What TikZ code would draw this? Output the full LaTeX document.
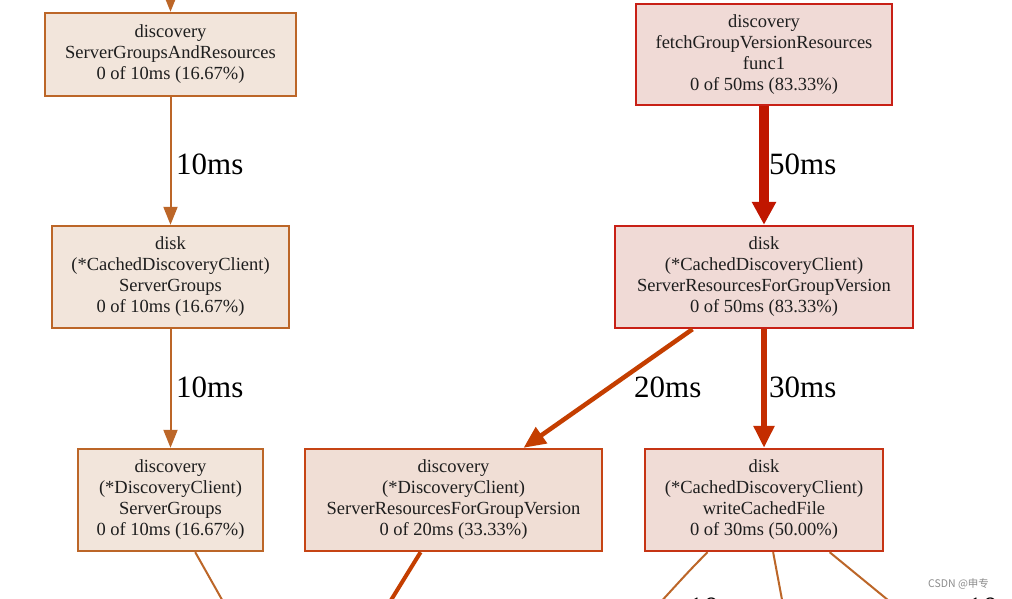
\documentclass[tikz,border=0pt]{standalone}
\usepackage{fontspec}
\setmainfont{Liberation Serif}
\newfontfamily\cjkfont{Noto Sans CJK SC}
\usetikzlibrary{arrows.meta,calc}
\definecolor{orEdge}{RGB}{188,102,40}
\definecolor{orFill}{RGB}{242,229,219}
\definecolor{rdEdge}{RGB}{200,32,22}
\definecolor{rdFill}{RGB}{240,218,214}
\definecolor{dBorder}{RGB}{198,68,20}
\definecolor{dFill}{RGB}{240,222,213}
\definecolor{eBorder}{RGB}{198,52,20}
\definecolor{eFill}{RGB}{240,220,214}
\definecolor{fgEdge}{RGB}{192,22,0}
\definecolor{gdEdge}{RGB}{196,62,0}
\definecolor{geEdge}{RGB}{196,45,0}
\definecolor{txt}{RGB}{30,30,30}
\tikzset{
  fbox/.style={draw, line width=2.4pt, rectangle, inner sep=0pt, align=center,
    text=txt, font=\fontsize{18.5}{21}\selectfont},
  obox/.style={fbox, draw=orEdge, fill=orFill},
  rbox/.style={fbox, draw=rdEdge, fill=rdFill},
  elabel/.style={anchor=west, inner sep=0pt, text=black, font=\fontsize{31}{34}\selectfont},
  thinedge/.style={draw=orEdge, line width=2pt, -{Triangle[width=14pt 0 0,length=18pt 0 0]}},
}
\begin{document}
\begin{tikzpicture}[x=1pt,y=-1pt]
\useasboundingbox (0,0) rectangle (1012,599);
\clip (0,0) rectangle (1012,599);
\fill[white] (0,0) rectangle (1012,599);

% nodes
\node[obox, minimum width=251pt, minimum height=83pt] (A) at (170.5,54.5)
  {discovery\\ServerGroupsAndResources\\0 of 10ms (16.67\%)};
\node[obox, minimum width=237pt, minimum height=102pt] (B) at (170.5,277)
  {disk\\(*CachedDiscoveryClient)\\ServerGroups\\0 of 10ms (16.67\%)};
\node[obox, minimum width=185pt, minimum height=102pt] (C) at (170.5,500)
  {discovery\\(*DiscoveryClient)\\ServerGroups\\0 of 10ms (16.67\%)};
\node[fbox, draw=dBorder, fill=dFill, minimum width=297pt, minimum height=102pt] (D) at (453.5,500)
  {discovery\\(*DiscoveryClient)\\ServerResourcesForGroupVersion\\0 of 20ms (33.33\%)};
\node[fbox, draw=eBorder, fill=eFill, minimum width=238pt, minimum height=102pt] (E) at (764,500)
  {disk\\(*CachedDiscoveryClient)\\writeCachedFile\\0 of 30ms (50.00\%)};
\node[rbox, minimum width=256pt, minimum height=101pt] (F) at (764,54.5)
  {discovery\\fetchGroupVersionResources\\func1\\0 of 50ms (83.33\%)};
\node[rbox, minimum width=298pt, minimum height=102pt] (G) at (764,277)
  {disk\\(*CachedDiscoveryClient)\\ServerResourcesForGroupVersion\\0 of 50ms (83.33\%)};

% free ends
\coordinate (topin) at (170.5,-10);
\coordinate (cout) at (225,605);
\coordinate (dout) at (388,605);
\coordinate (eoutl) at (658,605);
\coordinate (eoutm) at (783,605);
\coordinate (eoutr) at (894,605);

% edges
\draw[thinedge] (topin) -- (A.north);
\draw[thinedge] (A.south) -- (B.north);
\draw[thinedge] (B.south) -- (C.north);
\draw[draw=fgEdge, line width=10pt, -{Triangle[width=23pt 0 0,length=23pt 0 0]}] (F.south) -- (G.north);
\draw[draw=geEdge, line width=6pt, -{Triangle[width=20pt 0 0,length=22pt 0 0]}] (G.south) -- (E.north);
\draw[draw=gdEdge, line width=4.5pt, -{Triangle[width=19pt 0 0,length=22pt 0 0]}]
  ($(G.south west)!0.262!(G.south east)$) -- ($(D.north west)!0.734!(D.north east)$);
\draw[draw=orEdge, line width=2pt] ($(C.south west)!0.632!(C.south east)$) -- (cout);
\draw[draw=gdEdge, line width=4pt] ($(D.south west)!0.39!(D.south east)$) -- (dout);
\draw[draw=orEdge, line width=2pt] ($(E.south west)!0.265!(E.south east)$) .. controls (690,570) .. (eoutl);
\draw[draw=orEdge, line width=2pt] ($(E.south west)!0.538!(E.south east)$) -- (eoutm);
\draw[draw=orEdge, line width=2pt] ($(E.south west)!0.773!(E.south east)$) -- (eoutr);

% edge labels
\node[elabel] (l1) at (176,164.5) {10ms};
\node[elabel] (l2) at (176,387) {10ms};
\node[elabel] (l3) at (769,164.5) {50ms};
\node[elabel] (l4) at (769,387) {30ms};
\node[elabel] (l5) at (634,387) {20ms};
\node[elabel] (l6) at (688,608) {10ms};
\node[elabel] (l7) at (967,608) {10ms};

% watermark
\node[anchor=west, inner sep=0pt, text=black!45, font=\cjkfont\fontsize{10.5}{12}\selectfont] (wm) at (928,584) {CSDN @申专};
\end{tikzpicture}
\end{document}
